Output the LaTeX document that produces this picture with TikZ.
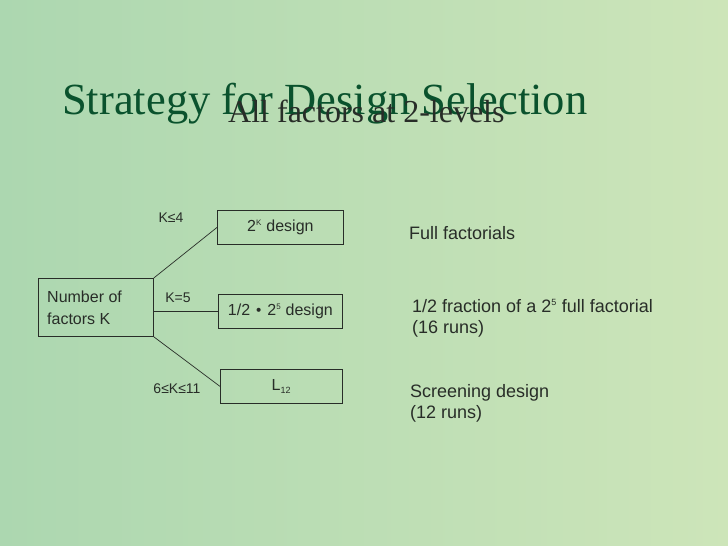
\documentclass[tikz,border=0pt]{standalone}
\usepackage{fontspec}
\setmainfont{Liberation Serif}
\newfontfamily\arial{Liberation Sans}
\newfontfamily\symb{DejaVu Sans}
\definecolor{bgA}{RGB}{172,215,176}
\definecolor{bgB}{RGB}{205,229,185}
\definecolor{titlegreen}{RGB}{10,82,45}
\definecolor{ink}{RGB}{40,45,40}
\tikzset{
  box/.style={draw=ink, line width=0.8pt, minimum height=34pt, inner sep=0pt},
  lbl/.style={font=\arial\fontsize{14}{16}\selectfont, text=ink, inner sep=0pt},
  boxtext/.style={font=\arial\fontsize{16}{18}\selectfont, text=ink},
  rtext/.style={font=\arial\fontsize{18}{21}\selectfont, text=ink, inner sep=0pt, anchor=west, align=left},
  conn/.style={draw=ink, line width=0.7pt}
}
\begin{document}
\begin{tikzpicture}[x=1pt,y=-1pt]
\useasboundingbox (0,0) rectangle (728,546);
\shade[left color=bgA, right color=bgB] (0,0) rectangle (728,546);
% title
\node[anchor=base west, inner sep=0pt, text=titlegreen, font=\fontsize{44.5}{48}\selectfont] (title) at (62,114) {Strategy for Design Selection};
\node[anchor=base west, inner sep=0pt, text=ink, font=\fontsize{32}{34}\selectfont] (sub) at (228,122) {All factors at 2-levels};
% boxes
\node[box, minimum width=115pt, minimum height=58pt, anchor=north west] (num) at (38,278) {};
\node[lbl, anchor=west, align=left, font=\arial\fontsize{16}{22}\selectfont] (numt) at (47,308) {Number of\\factors K};
\node[box, boxtext, minimum width=126pt, anchor=north west] (b1) at (217,210) {2\textsuperscript{\fontsize{8}{9}\selectfont K} design};
\node[box, boxtext, minimum width=124pt, anchor=north west] (b2) at (218,294) {1/2 {\symb\fontsize{14}{16}\selectfont•} 2\textsuperscript{\fontsize{8}{9}\selectfont 5} design};
\node[box, boxtext, minimum width=122pt, anchor=north west] (b3) at (220,369) {L\textsubscript{\fontsize{9}{10}\selectfont 12}};
% connectors
\draw[conn] (num.north east) -- (b1.west);
\draw[conn] (b2.west -| num.east) -- (b2.west);
\draw[conn] (num.south east) -- (b3.west);
% labels
\node[lbl] (l1) at (171,218) {K≤4};
\node[lbl] (l2) at (178,298) {K=5};
\node[lbl] (l3) at (177,389) {6≤K≤11};
% right texts
\node[rtext] (r1) at (409,233) {Full factorials};
\node[rtext] (r2) at (412,318) {1/2 fraction of a 2\textsuperscript{\fontsize{9}{10}\selectfont 5} full factorial\\(16 runs)};
\node[rtext] (r3) at (410,403) {Screening design\\(12 runs)};
\end{tikzpicture}
\end{document}
